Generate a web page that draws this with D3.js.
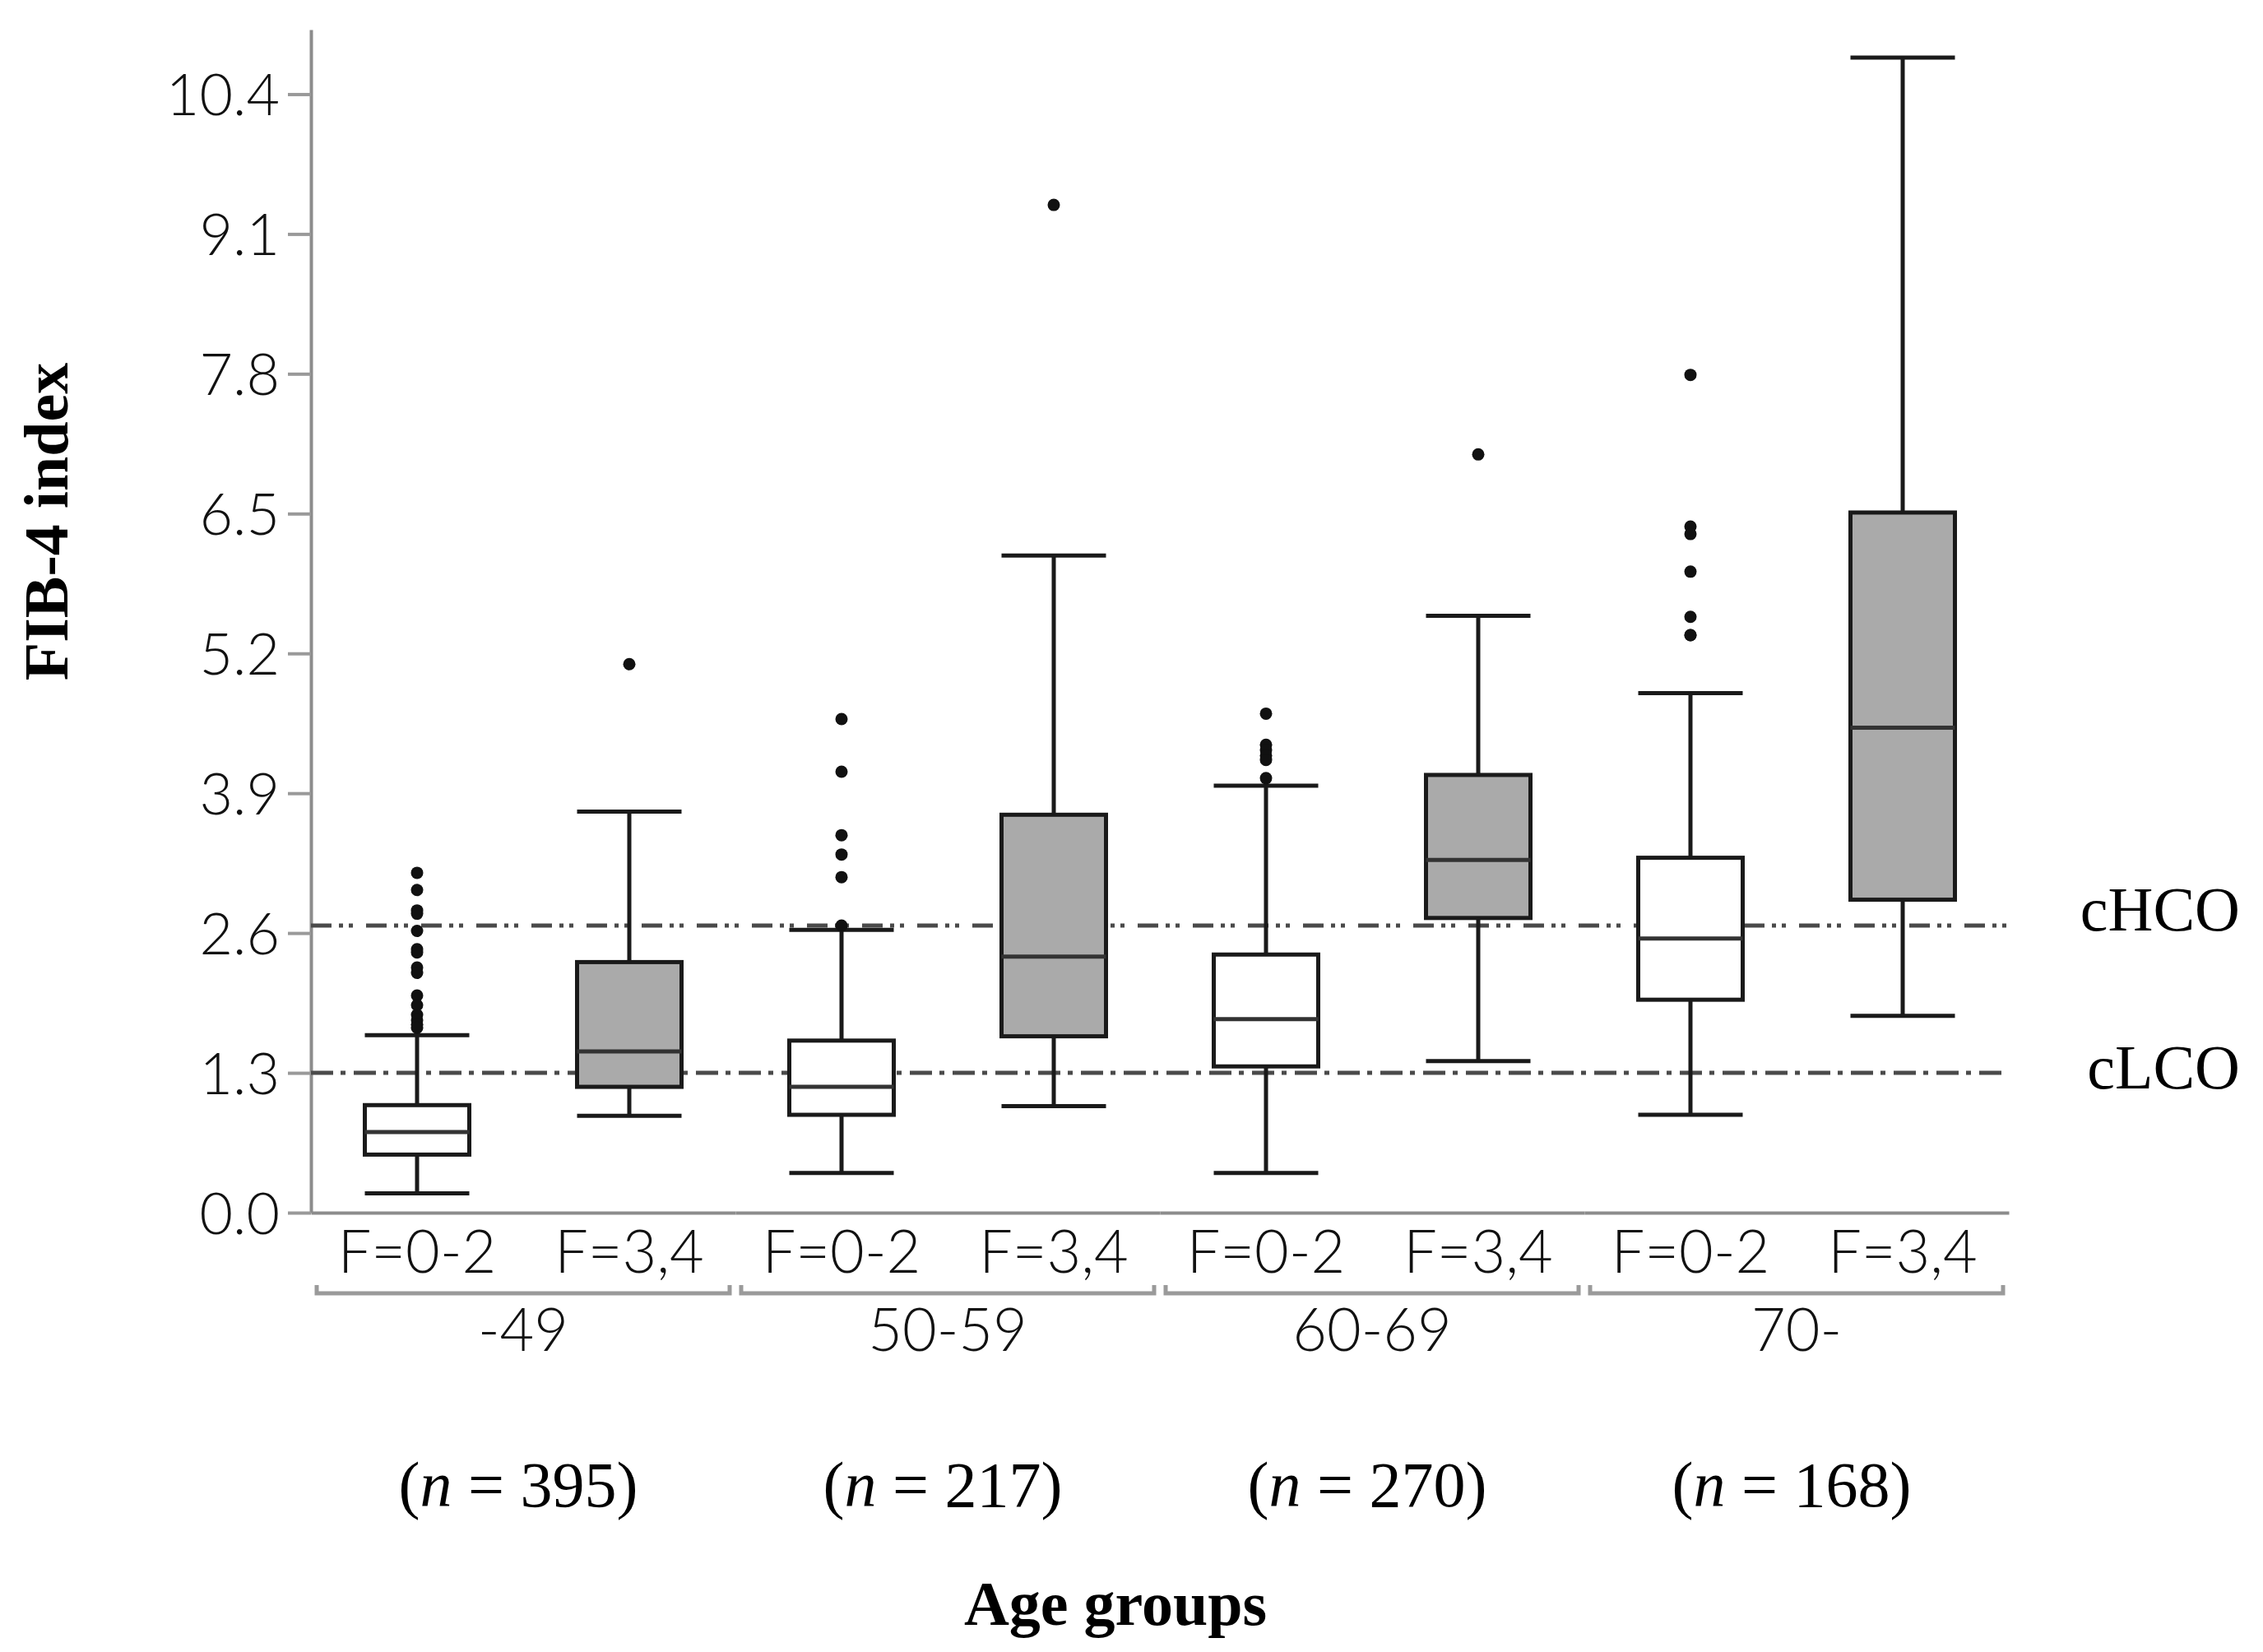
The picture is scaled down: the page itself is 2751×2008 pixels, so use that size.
<!DOCTYPE html>
<html>
<head>
<meta charset="utf-8">
<script src="https://cdn.jsdelivr.net/npm/d3@7/dist/d3.min.js"></script>
<style>
  html, body { margin: 0; padding: 0; background: #ffffff; }
  svg { display: block; }
</style>
</head>
<body>
<svg id="chart" width="2751" height="2008"></svg>
<script>
// ---------------- DATA ----------------
const ageGroups = ["-49", "50-59", "60-69", "70-"];
const groupN = [395, 217, 270, 168];
const fibrosis = ["F=0-2", "F=3,4"];

// [whisker low, Q1, median, Q3, whisker high] for F=0-2 per age group
const statsF02 = [
  [0.18, 0.54, 0.75, 1.00, 1.65],
  [0.37, 0.91, 1.17, 1.60, 2.63],
  [0.37, 1.36, 1.80, 2.40, 3.97],
  [0.91, 1.98, 2.55, 3.30, 4.83]
];
// [whisker low, Q1, median, Q3, whisker high] for F=3,4 per age group
const statsF34 = [
  [0.90, 1.17, 1.50, 2.33, 3.73],
  [0.99, 1.64, 2.38, 3.70, 6.11],
  [1.41, 2.74, 3.28, 4.07, 5.55],
  [1.83, 2.91, 4.51, 6.51, 10.74]
];
// outliers
const outliersF02 = [
  [3.16, 3.00, 2.81, 2.78, 2.62, 2.45, 2.42, 2.28, 2.23, 2.02, 1.93, 1.84, 1.79, 1.75, 1.72],
  [4.59, 4.10, 3.51, 3.33, 3.12, 2.67],
  [4.64, 4.35, 4.30, 4.25, 4.21, 4.04],
  [7.79, 6.38, 6.31, 5.96, 5.54, 5.37, 5.37]
];
const outliersF34 = [
  [5.10],
  [9.37],
  [7.05],
  []
];
const yTicks = [0.0, 1.3, 2.6, 3.9, 5.2, 6.5, 7.8, 9.1, 10.4];
const cutoffs = [
  { label: "cHCO", value: 2.67 },
  { label: "cLCO", value: 1.30 }
];
const yTitle = "FIB-4 index";
const xTitle = "Age groups";

// ---------------- LAYOUT ----------------
const svg = d3.select("#chart");
const plotLeft = 378, plotRight = 2442, plotTop = 36, plotBottom = 1474;
const sans = "Lato, 'Open Sans', sans-serif";
const serif = "'Liberation Serif', 'DejaVu Serif', serif";
const axisColor = "#8c8c8c";

const y = d3.scaleLinear().domain([0, 11]).range([plotBottom, plotTop]);
const xGroup = d3.scaleBand().domain(ageGroups).range([plotLeft, plotRight]).padding(0);
const xSub = d3.scaleBand().domain(fibrosis).range([0, xGroup.bandwidth()])
  .paddingInner(0.5).paddingOuter(0.25);

// build box records
const boxes = [];
ageGroups.forEach((g, i) => {
  [statsF02[i], statsF34[i]].forEach((s, j) => {
    boxes.push({
      group: g, f: fibrosis[j],
      lo: s[0], q1: s[1], med: s[2], q3: s[3], hi: s[4],
      out: (j === 0 ? outliersF02[i] : outliersF34[i]),
      fill: j === 0 ? "#ffffff" : "#aaaaaa"
    });
  });
});

// ---------------- Y AXIS ----------------
const yAxis = d3.axisLeft(y).tickValues(yTicks).tickFormat(d3.format(".1f"))
  .tickSize(28).tickSizeOuter(0).tickPadding(10);
const gy = svg.append("g").attr("transform", `translate(${plotLeft},0)`).call(yAxis);
gy.select(".domain").attr("stroke", axisColor).attr("stroke-width", 4);
gy.selectAll(".tick line").attr("stroke", "#999999").attr("stroke-width", 4);
gy.selectAll(".tick text").attr("font-family", sans).attr("font-weight", 300).attr("font-size", 70)
  .attr("fill", "#111").attr("dy", "0.36em");

svg.append("text")
  .attr("transform", `translate(82, 634) rotate(-90)`)
  .attr("text-anchor", "middle")
  .attr("font-family", serif).attr("font-weight", "bold").attr("font-size", 76)
  .attr("fill", "#000").text(yTitle);

// ---------------- X AXIS (per group) ----------------
ageGroups.forEach((g, i) => {
  const gx = svg.append("g").attr("transform", `translate(${xGroup(g)},${plotBottom})`)
    .call(d3.axisBottom(xSub).tickSize(0).tickSizeOuter(0).tickPadding(22));
  gx.select(".domain").attr("stroke", axisColor).attr("stroke-width", 4);
  gx.selectAll(".tick text").attr("font-family", sans).attr("font-weight", 300)
    .attr("font-size", 72).attr("fill", "#111");

  // bracket
  const x0 = xGroup(g) + 7, x1 = xGroup(g) + xGroup.bandwidth() - 7;
  svg.append("path")
    .attr("d", `M${x0},1562V1572H${x1}V1562`)
    .attr("fill", "none").attr("stroke", "#9a9a9a").attr("stroke-width", 5);

  const cx = xGroup(g) + xGroup.bandwidth() / 2;
  svg.append("text").attr("x", cx).attr("y", 1642).attr("text-anchor", "middle")
    .attr("font-family", sans).attr("font-weight", 300).attr("font-size", 72)
    .attr("fill", "#111").text(g);

  const t = svg.append("text").attr("x", cx - 6).attr("y", 1831).attr("text-anchor", "middle")
    .attr("font-family", serif).attr("font-size", 78).attr("fill", "#000");
  t.append("tspan").text("(");
  t.append("tspan").attr("font-style", "italic").text("n");
  t.append("tspan").text(" = " + groupN[i] + ")");
});

svg.append("text").attr("x", 1356).attr("y", 1975).attr("text-anchor", "middle")
  .attr("font-family", serif).attr("font-weight", "bold").attr("font-size", 76)
  .attr("fill", "#000").text(xTitle);

// ---------------- CUTOFF LINES ----------------
const dashes = { "cHCO": "25,9,5,7,5,16", "cLCO": "27,9,6,10" };
const cutG = svg.append("g");
cutG.selectAll("line").data(cutoffs).join("line")
  .attr("x1", plotLeft).attr("x2", plotRight)
  .attr("y1", d => y(d.value)).attr("y2", d => y(d.value))
  .attr("stroke", "#4a4a4a").attr("stroke-width", 5)
  .attr("stroke-dasharray", d => dashes[d.label]);
cutG.selectAll("text").data(cutoffs).join("text")
  .attr("x", 2723).attr("y", d => y(d.value) + (d.label === "cHCO" ? 6 : 19))
  .attr("text-anchor", "end")
  .attr("font-family", serif).attr("font-size", 76).attr("fill", "#000")
  .text(d => d.label);

// ---------------- BOXES ----------------
const bw = xSub.bandwidth() - 2;
const bg = svg.append("g").selectAll("g").data(boxes).join("g")
  .attr("transform", d => `translate(${xGroup(d.group) + xSub(d.f) + xSub.bandwidth() / 2},0)`);

const stroke = "#1a1a1a";
const sw = 5;
// whisker stems
bg.append("line").attr("x1", 0).attr("x2", 0)
  .attr("y1", d => y(d.q3)).attr("y2", d => y(d.hi))
  .attr("stroke", stroke).attr("stroke-width", sw);
bg.append("line").attr("x1", 0).attr("x2", 0)
  .attr("y1", d => y(d.q1)).attr("y2", d => y(d.lo))
  .attr("stroke", stroke).attr("stroke-width", sw);
// caps
bg.append("line").attr("x1", -bw / 2).attr("x2", bw / 2)
  .attr("y1", d => y(d.hi)).attr("y2", d => y(d.hi))
  .attr("stroke", stroke).attr("stroke-width", sw);
bg.append("line").attr("x1", -bw / 2).attr("x2", bw / 2)
  .attr("y1", d => y(d.lo)).attr("y2", d => y(d.lo))
  .attr("stroke", stroke).attr("stroke-width", sw);
// box
bg.append("rect").attr("x", -bw / 2).attr("width", bw)
  .attr("y", d => y(d.q3)).attr("height", d => y(d.q1) - y(d.q3))
  .attr("fill", d => d.fill).attr("stroke", stroke).attr("stroke-width", sw);
// median
bg.append("line").attr("x1", -bw / 2).attr("x2", bw / 2)
  .attr("y1", d => y(d.med)).attr("y2", d => y(d.med))
  .attr("stroke", "#333333").attr("stroke-width", sw);
// outliers
bg.selectAll("circle").data(d => d.out).join("circle")
  .attr("cx", 0).attr("cy", d => y(d)).attr("r", 7.5).attr("fill", "#111111");
</script>
</body>
</html>
